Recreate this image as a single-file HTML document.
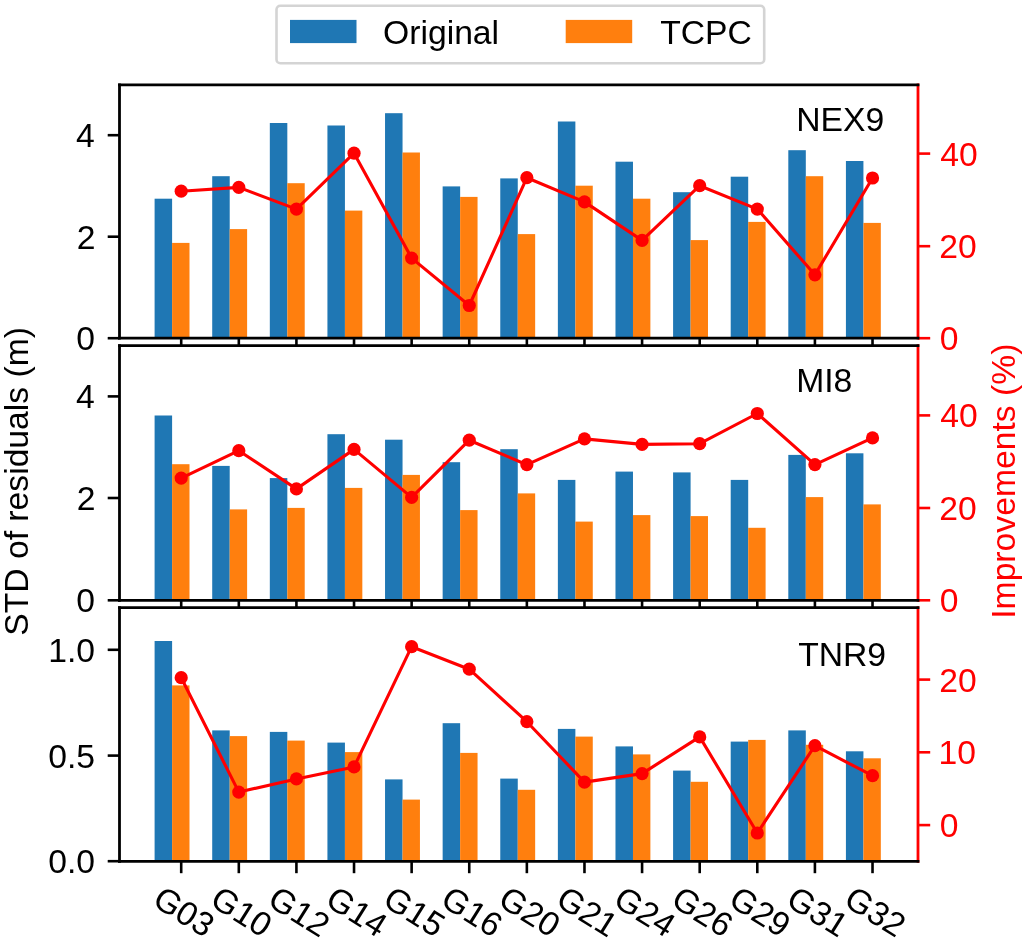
<!DOCTYPE html>
<html lang="en"><head><meta charset="utf-8"><title>STD of residuals and improvements</title>
<style>html,body{margin:0;padding:0;background:#fff;}body{width:1025px;height:943px;overflow:hidden;}svg{display:block;filter:blur(0.45px);}text{font-family:"Liberation Sans",Arial,sans-serif;font-size:33.7px;}</style>
</head><body>
<svg width="1025" height="943" viewBox="0 0 1025 943">
<rect width="1025" height="943" fill="#ffffff"/>
<rect x="276.5" y="5.8" width="487.7" height="57.5" rx="3.8" ry="3.8" fill="#ffffff" stroke="#d4d4d4" stroke-width="2.6"/>
<rect x="290" y="19.9" width="66.5" height="23.2" fill="#1f77b4"/>
<text x="383.00" y="43.7" fill="#000">Original</text>
<rect x="565.7" y="19.9" width="66.5" height="23.2" fill="#ff7f0e"/>
<text x="660.15" y="43.7" fill="#000">TCPC</text>
<g>
<rect x="154.60" y="198.70" width="17.50" height="139.50" fill="#1f77b4"/>
<rect x="172.10" y="242.90" width="17.40" height="95.30" fill="#ff7f0e"/>
<rect x="212.21" y="176.20" width="17.50" height="162.00" fill="#1f77b4"/>
<rect x="229.71" y="229.10" width="17.40" height="109.10" fill="#ff7f0e"/>
<rect x="269.82" y="123.00" width="17.50" height="215.20" fill="#1f77b4"/>
<rect x="287.32" y="183.20" width="17.40" height="155.00" fill="#ff7f0e"/>
<rect x="327.43" y="125.50" width="17.50" height="212.70" fill="#1f77b4"/>
<rect x="344.93" y="210.60" width="17.40" height="127.60" fill="#ff7f0e"/>
<rect x="385.04" y="113.20" width="17.50" height="225.00" fill="#1f77b4"/>
<rect x="402.54" y="152.50" width="17.40" height="185.70" fill="#ff7f0e"/>
<rect x="442.65" y="186.40" width="17.50" height="151.80" fill="#1f77b4"/>
<rect x="460.15" y="196.90" width="17.40" height="141.30" fill="#ff7f0e"/>
<rect x="500.26" y="178.40" width="17.50" height="159.80" fill="#1f77b4"/>
<rect x="517.76" y="234.10" width="17.40" height="104.10" fill="#ff7f0e"/>
<rect x="557.87" y="121.50" width="17.50" height="216.70" fill="#1f77b4"/>
<rect x="575.37" y="185.70" width="17.40" height="152.50" fill="#ff7f0e"/>
<rect x="615.48" y="161.70" width="17.50" height="176.50" fill="#1f77b4"/>
<rect x="632.98" y="198.70" width="17.40" height="139.50" fill="#ff7f0e"/>
<rect x="673.09" y="192.20" width="17.50" height="146.00" fill="#1f77b4"/>
<rect x="690.59" y="240.10" width="17.40" height="98.10" fill="#ff7f0e"/>
<rect x="730.70" y="176.70" width="17.50" height="161.50" fill="#1f77b4"/>
<rect x="748.20" y="221.90" width="17.40" height="116.30" fill="#ff7f0e"/>
<rect x="788.31" y="150.20" width="17.50" height="188.00" fill="#1f77b4"/>
<rect x="805.81" y="176.20" width="17.40" height="162.00" fill="#ff7f0e"/>
<rect x="845.92" y="161.00" width="17.50" height="177.20" fill="#1f77b4"/>
<rect x="863.42" y="222.90" width="17.40" height="115.30" fill="#ff7f0e"/>
<line x1="181.20" y1="338.20" x2="181.20" y2="345.60" stroke="#000" stroke-width="2.6"/>
<line x1="238.81" y1="338.20" x2="238.81" y2="345.60" stroke="#000" stroke-width="2.6"/>
<line x1="296.42" y1="338.20" x2="296.42" y2="345.60" stroke="#000" stroke-width="2.6"/>
<line x1="354.03" y1="338.20" x2="354.03" y2="345.60" stroke="#000" stroke-width="2.6"/>
<line x1="411.64" y1="338.20" x2="411.64" y2="345.60" stroke="#000" stroke-width="2.6"/>
<line x1="469.25" y1="338.20" x2="469.25" y2="345.60" stroke="#000" stroke-width="2.6"/>
<line x1="526.86" y1="338.20" x2="526.86" y2="345.60" stroke="#000" stroke-width="2.6"/>
<line x1="584.47" y1="338.20" x2="584.47" y2="345.60" stroke="#000" stroke-width="2.6"/>
<line x1="642.08" y1="338.20" x2="642.08" y2="345.60" stroke="#000" stroke-width="2.6"/>
<line x1="699.69" y1="338.20" x2="699.69" y2="345.60" stroke="#000" stroke-width="2.6"/>
<line x1="757.30" y1="338.20" x2="757.30" y2="345.60" stroke="#000" stroke-width="2.6"/>
<line x1="814.91" y1="338.20" x2="814.91" y2="345.60" stroke="#000" stroke-width="2.6"/>
<line x1="872.52" y1="338.20" x2="872.52" y2="345.60" stroke="#000" stroke-width="2.6"/>
</g>
<g>
<rect x="154.60" y="415.50" width="17.50" height="184.80" fill="#1f77b4"/>
<rect x="172.10" y="464.20" width="17.40" height="136.10" fill="#ff7f0e"/>
<rect x="212.21" y="465.90" width="17.50" height="134.40" fill="#1f77b4"/>
<rect x="229.71" y="509.40" width="17.40" height="90.90" fill="#ff7f0e"/>
<rect x="269.82" y="478.10" width="17.50" height="122.20" fill="#1f77b4"/>
<rect x="287.32" y="507.90" width="17.40" height="92.40" fill="#ff7f0e"/>
<rect x="327.43" y="434.20" width="17.50" height="166.10" fill="#1f77b4"/>
<rect x="344.93" y="487.90" width="17.40" height="112.40" fill="#ff7f0e"/>
<rect x="385.04" y="439.70" width="17.50" height="160.60" fill="#1f77b4"/>
<rect x="402.54" y="474.90" width="17.40" height="125.40" fill="#ff7f0e"/>
<rect x="442.65" y="462.20" width="17.50" height="138.10" fill="#1f77b4"/>
<rect x="460.15" y="510.10" width="17.40" height="90.20" fill="#ff7f0e"/>
<rect x="500.26" y="449.20" width="17.50" height="151.10" fill="#1f77b4"/>
<rect x="517.76" y="493.40" width="17.40" height="106.90" fill="#ff7f0e"/>
<rect x="557.87" y="479.90" width="17.50" height="120.40" fill="#1f77b4"/>
<rect x="575.37" y="521.60" width="17.40" height="78.70" fill="#ff7f0e"/>
<rect x="615.48" y="471.60" width="17.50" height="128.70" fill="#1f77b4"/>
<rect x="632.98" y="515.10" width="17.40" height="85.20" fill="#ff7f0e"/>
<rect x="673.09" y="472.40" width="17.50" height="127.90" fill="#1f77b4"/>
<rect x="690.59" y="516.10" width="17.40" height="84.20" fill="#ff7f0e"/>
<rect x="730.70" y="479.90" width="17.50" height="120.40" fill="#1f77b4"/>
<rect x="748.20" y="527.80" width="17.40" height="72.50" fill="#ff7f0e"/>
<rect x="788.31" y="454.90" width="17.50" height="145.40" fill="#1f77b4"/>
<rect x="805.81" y="497.10" width="17.40" height="103.20" fill="#ff7f0e"/>
<rect x="845.92" y="453.30" width="17.50" height="147.00" fill="#1f77b4"/>
<rect x="863.42" y="504.40" width="17.40" height="95.90" fill="#ff7f0e"/>
<line x1="181.20" y1="600.30" x2="181.20" y2="607.60" stroke="#000" stroke-width="2.6"/>
<line x1="238.81" y1="600.30" x2="238.81" y2="607.60" stroke="#000" stroke-width="2.6"/>
<line x1="296.42" y1="600.30" x2="296.42" y2="607.60" stroke="#000" stroke-width="2.6"/>
<line x1="354.03" y1="600.30" x2="354.03" y2="607.60" stroke="#000" stroke-width="2.6"/>
<line x1="411.64" y1="600.30" x2="411.64" y2="607.60" stroke="#000" stroke-width="2.6"/>
<line x1="469.25" y1="600.30" x2="469.25" y2="607.60" stroke="#000" stroke-width="2.6"/>
<line x1="526.86" y1="600.30" x2="526.86" y2="607.60" stroke="#000" stroke-width="2.6"/>
<line x1="584.47" y1="600.30" x2="584.47" y2="607.60" stroke="#000" stroke-width="2.6"/>
<line x1="642.08" y1="600.30" x2="642.08" y2="607.60" stroke="#000" stroke-width="2.6"/>
<line x1="699.69" y1="600.30" x2="699.69" y2="607.60" stroke="#000" stroke-width="2.6"/>
<line x1="757.30" y1="600.30" x2="757.30" y2="607.60" stroke="#000" stroke-width="2.6"/>
<line x1="814.91" y1="600.30" x2="814.91" y2="607.60" stroke="#000" stroke-width="2.6"/>
<line x1="872.52" y1="600.30" x2="872.52" y2="607.60" stroke="#000" stroke-width="2.6"/>
</g>
<g>
<rect x="154.60" y="641.00" width="17.50" height="220.40" fill="#1f77b4"/>
<rect x="172.10" y="685.40" width="17.40" height="176.00" fill="#ff7f0e"/>
<rect x="212.21" y="730.40" width="17.50" height="131.00" fill="#1f77b4"/>
<rect x="229.71" y="736.10" width="17.40" height="125.30" fill="#ff7f0e"/>
<rect x="269.82" y="731.90" width="17.50" height="129.50" fill="#1f77b4"/>
<rect x="287.32" y="740.60" width="17.40" height="120.80" fill="#ff7f0e"/>
<rect x="327.43" y="742.60" width="17.50" height="118.80" fill="#1f77b4"/>
<rect x="344.93" y="752.10" width="17.40" height="109.30" fill="#ff7f0e"/>
<rect x="385.04" y="779.40" width="17.50" height="82.00" fill="#1f77b4"/>
<rect x="402.54" y="799.60" width="17.40" height="61.80" fill="#ff7f0e"/>
<rect x="442.65" y="723.20" width="17.50" height="138.20" fill="#1f77b4"/>
<rect x="460.15" y="752.90" width="17.40" height="108.50" fill="#ff7f0e"/>
<rect x="500.26" y="778.60" width="17.50" height="82.80" fill="#1f77b4"/>
<rect x="517.76" y="789.80" width="17.40" height="71.60" fill="#ff7f0e"/>
<rect x="557.87" y="728.90" width="17.50" height="132.50" fill="#1f77b4"/>
<rect x="575.37" y="736.60" width="17.40" height="124.80" fill="#ff7f0e"/>
<rect x="615.48" y="746.40" width="17.50" height="115.00" fill="#1f77b4"/>
<rect x="632.98" y="754.40" width="17.40" height="107.00" fill="#ff7f0e"/>
<rect x="673.09" y="770.60" width="17.50" height="90.80" fill="#1f77b4"/>
<rect x="690.59" y="781.80" width="17.40" height="79.60" fill="#ff7f0e"/>
<rect x="730.70" y="741.60" width="17.50" height="119.80" fill="#1f77b4"/>
<rect x="748.20" y="739.90" width="17.40" height="121.50" fill="#ff7f0e"/>
<rect x="788.31" y="730.40" width="17.50" height="131.00" fill="#1f77b4"/>
<rect x="805.81" y="744.80" width="17.40" height="116.60" fill="#ff7f0e"/>
<rect x="845.92" y="751.30" width="17.50" height="110.10" fill="#1f77b4"/>
<rect x="863.42" y="758.30" width="17.40" height="103.10" fill="#ff7f0e"/>
<line x1="181.20" y1="861.40" x2="181.20" y2="873.20" stroke="#000" stroke-width="2.6"/>
<line x1="238.81" y1="861.40" x2="238.81" y2="873.20" stroke="#000" stroke-width="2.6"/>
<line x1="296.42" y1="861.40" x2="296.42" y2="873.20" stroke="#000" stroke-width="2.6"/>
<line x1="354.03" y1="861.40" x2="354.03" y2="873.20" stroke="#000" stroke-width="2.6"/>
<line x1="411.64" y1="861.40" x2="411.64" y2="873.20" stroke="#000" stroke-width="2.6"/>
<line x1="469.25" y1="861.40" x2="469.25" y2="873.20" stroke="#000" stroke-width="2.6"/>
<line x1="526.86" y1="861.40" x2="526.86" y2="873.20" stroke="#000" stroke-width="2.6"/>
<line x1="584.47" y1="861.40" x2="584.47" y2="873.20" stroke="#000" stroke-width="2.6"/>
<line x1="642.08" y1="861.40" x2="642.08" y2="873.20" stroke="#000" stroke-width="2.6"/>
<line x1="699.69" y1="861.40" x2="699.69" y2="873.20" stroke="#000" stroke-width="2.6"/>
<line x1="757.30" y1="861.40" x2="757.30" y2="873.20" stroke="#000" stroke-width="2.6"/>
<line x1="814.91" y1="861.40" x2="814.91" y2="873.20" stroke="#000" stroke-width="2.6"/>
<line x1="872.52" y1="861.40" x2="872.52" y2="873.20" stroke="#000" stroke-width="2.6"/>
</g>
<polyline points="181.20,191.20 238.81,187.40 296.42,209.10 354.03,153.20 411.64,258.10 469.25,305.50 526.86,177.70 584.47,201.90 642.08,240.40 699.69,185.70 757.30,209.10 814.91,274.80 872.52,178.00" fill="none" stroke="#ff0000" stroke-width="3.1" stroke-linejoin="round"/>
<circle cx="181.20" cy="191.20" r="6.6" fill="#ff0000"/>
<circle cx="238.81" cy="187.40" r="6.6" fill="#ff0000"/>
<circle cx="296.42" cy="209.10" r="6.6" fill="#ff0000"/>
<circle cx="354.03" cy="153.20" r="6.6" fill="#ff0000"/>
<circle cx="411.64" cy="258.10" r="6.6" fill="#ff0000"/>
<circle cx="469.25" cy="305.50" r="6.6" fill="#ff0000"/>
<circle cx="526.86" cy="177.70" r="6.6" fill="#ff0000"/>
<circle cx="584.47" cy="201.90" r="6.6" fill="#ff0000"/>
<circle cx="642.08" cy="240.40" r="6.6" fill="#ff0000"/>
<circle cx="699.69" cy="185.70" r="6.6" fill="#ff0000"/>
<circle cx="757.30" cy="209.10" r="6.6" fill="#ff0000"/>
<circle cx="814.91" cy="274.80" r="6.6" fill="#ff0000"/>
<circle cx="872.52" cy="178.00" r="6.6" fill="#ff0000"/>
<polyline points="181.20,478.10 238.81,450.70 296.42,488.90 354.03,449.40 411.64,497.40 469.25,440.20 526.86,464.70 584.47,438.90 642.08,444.40 699.69,443.70 757.30,413.50 814.91,464.60 872.52,437.90" fill="none" stroke="#ff0000" stroke-width="3.1" stroke-linejoin="round"/>
<circle cx="181.20" cy="478.10" r="6.6" fill="#ff0000"/>
<circle cx="238.81" cy="450.70" r="6.6" fill="#ff0000"/>
<circle cx="296.42" cy="488.90" r="6.6" fill="#ff0000"/>
<circle cx="354.03" cy="449.40" r="6.6" fill="#ff0000"/>
<circle cx="411.64" cy="497.40" r="6.6" fill="#ff0000"/>
<circle cx="469.25" cy="440.20" r="6.6" fill="#ff0000"/>
<circle cx="526.86" cy="464.70" r="6.6" fill="#ff0000"/>
<circle cx="584.47" cy="438.90" r="6.6" fill="#ff0000"/>
<circle cx="642.08" cy="444.40" r="6.6" fill="#ff0000"/>
<circle cx="699.69" cy="443.70" r="6.6" fill="#ff0000"/>
<circle cx="757.30" cy="413.50" r="6.6" fill="#ff0000"/>
<circle cx="814.91" cy="464.60" r="6.6" fill="#ff0000"/>
<circle cx="872.52" cy="437.90" r="6.6" fill="#ff0000"/>
<polyline points="181.20,677.70 238.81,792.10 296.42,778.90 354.03,766.90 411.64,646.70 469.25,669.20 526.86,721.70 584.47,782.10 642.08,773.60 699.69,736.90 757.30,833.00 814.91,745.70 872.52,775.70" fill="none" stroke="#ff0000" stroke-width="3.1" stroke-linejoin="round"/>
<circle cx="181.20" cy="677.70" r="6.6" fill="#ff0000"/>
<circle cx="238.81" cy="792.10" r="6.6" fill="#ff0000"/>
<circle cx="296.42" cy="778.90" r="6.6" fill="#ff0000"/>
<circle cx="354.03" cy="766.90" r="6.6" fill="#ff0000"/>
<circle cx="411.64" cy="646.70" r="6.6" fill="#ff0000"/>
<circle cx="469.25" cy="669.20" r="6.6" fill="#ff0000"/>
<circle cx="526.86" cy="721.70" r="6.6" fill="#ff0000"/>
<circle cx="584.47" cy="782.10" r="6.6" fill="#ff0000"/>
<circle cx="642.08" cy="773.60" r="6.6" fill="#ff0000"/>
<circle cx="699.69" cy="736.90" r="6.6" fill="#ff0000"/>
<circle cx="757.30" cy="833.00" r="6.6" fill="#ff0000"/>
<circle cx="814.91" cy="745.70" r="6.6" fill="#ff0000"/>
<circle cx="872.52" cy="775.70" r="6.6" fill="#ff0000"/>
<line x1="107.70" y1="338.20" x2="119.50" y2="338.20" stroke="#000" stroke-width="2.6"/>
<text x="76.20" y="350.10" fill="#000">0</text>
<line x1="107.70" y1="236.70" x2="119.50" y2="236.70" stroke="#000" stroke-width="2.6"/>
<text x="76.70" y="248.60" fill="#000">2</text>
<line x1="107.70" y1="135.20" x2="119.50" y2="135.20" stroke="#000" stroke-width="2.6"/>
<text x="75.95" y="147.10" fill="#000">4</text>
<line x1="918.00" y1="338.20" x2="930.20" y2="338.20" stroke="#ff0000" stroke-width="2.6"/>
<text x="939.75" y="350.10" fill="#ff0000">0</text>
<line x1="918.00" y1="246.20" x2="930.20" y2="246.20" stroke="#ff0000" stroke-width="2.6"/>
<text x="939.25" y="258.10" fill="#ff0000">20</text>
<line x1="918.00" y1="153.60" x2="930.20" y2="153.60" stroke="#ff0000" stroke-width="2.6"/>
<text x="940.25" y="165.50" fill="#ff0000">40</text>
<line x1="918.00" y1="83.40" x2="918.00" y2="339.60" stroke="#ff0000" stroke-width="2.8"/>
<line x1="118.10" y1="84.80" x2="919.40" y2="84.80" stroke="#000" stroke-width="2.8"/>
<line x1="118.10" y1="338.20" x2="919.40" y2="338.20" stroke="#000" stroke-width="2.8"/>
<line x1="119.50" y1="83.40" x2="119.50" y2="339.60" stroke="#000" stroke-width="2.8"/>
<text x="796.15" y="131.40" fill="#000">NEX9</text>
<line x1="107.70" y1="600.30" x2="119.50" y2="600.30" stroke="#000" stroke-width="2.6"/>
<text x="76.20" y="612.20" fill="#000">0</text>
<line x1="107.70" y1="498.00" x2="119.50" y2="498.00" stroke="#000" stroke-width="2.6"/>
<text x="76.70" y="509.90" fill="#000">2</text>
<line x1="107.70" y1="396.40" x2="119.50" y2="396.40" stroke="#000" stroke-width="2.6"/>
<text x="75.95" y="408.30" fill="#000">4</text>
<line x1="918.00" y1="600.30" x2="930.20" y2="600.30" stroke="#ff0000" stroke-width="2.6"/>
<text x="939.75" y="612.20" fill="#ff0000">0</text>
<line x1="918.00" y1="508.00" x2="930.20" y2="508.00" stroke="#ff0000" stroke-width="2.6"/>
<text x="939.25" y="519.90" fill="#ff0000">20</text>
<line x1="918.00" y1="415.40" x2="930.20" y2="415.40" stroke="#ff0000" stroke-width="2.6"/>
<text x="940.25" y="427.30" fill="#ff0000">40</text>
<line x1="918.00" y1="344.20" x2="918.00" y2="601.70" stroke="#ff0000" stroke-width="2.8"/>
<line x1="118.10" y1="345.60" x2="919.40" y2="345.60" stroke="#000" stroke-width="2.8"/>
<line x1="118.10" y1="600.30" x2="919.40" y2="600.30" stroke="#000" stroke-width="2.8"/>
<line x1="119.50" y1="344.20" x2="119.50" y2="601.70" stroke="#000" stroke-width="2.8"/>
<text x="796.15" y="392.30" fill="#000">MI8</text>
<line x1="107.70" y1="861.20" x2="119.50" y2="861.20" stroke="#000" stroke-width="2.6"/>
<text x="48.20" y="873.10" fill="#000">0.0</text>
<line x1="107.70" y1="755.60" x2="119.50" y2="755.60" stroke="#000" stroke-width="2.6"/>
<text x="48.20" y="767.50" fill="#000">0.5</text>
<line x1="107.70" y1="649.80" x2="119.50" y2="649.80" stroke="#000" stroke-width="2.6"/>
<text x="48.20" y="661.70" fill="#000">1.0</text>
<line x1="918.00" y1="825.10" x2="930.20" y2="825.10" stroke="#ff0000" stroke-width="2.6"/>
<text x="939.75" y="837.00" fill="#ff0000">0</text>
<line x1="918.00" y1="752.30" x2="930.20" y2="752.30" stroke="#ff0000" stroke-width="2.6"/>
<text x="938.50" y="764.20" fill="#ff0000">10</text>
<line x1="918.00" y1="679.60" x2="930.20" y2="679.60" stroke="#ff0000" stroke-width="2.6"/>
<text x="939.25" y="691.50" fill="#ff0000">20</text>
<line x1="918.00" y1="606.20" x2="918.00" y2="862.80" stroke="#ff0000" stroke-width="2.8"/>
<line x1="118.10" y1="607.60" x2="919.40" y2="607.60" stroke="#000" stroke-width="2.8"/>
<line x1="118.10" y1="861.40" x2="919.40" y2="861.40" stroke="#000" stroke-width="2.8"/>
<line x1="119.50" y1="606.20" x2="119.50" y2="862.80" stroke="#000" stroke-width="2.8"/>
<text x="798.15" y="666.40" fill="#000">TNR9</text>
<text transform="translate(184.20,911.3) rotate(32)" text-anchor="middle" y="11.9" fill="#000">G03</text>
<text transform="translate(241.81,911.3) rotate(32)" text-anchor="middle" y="11.9" fill="#000">G10</text>
<text transform="translate(299.42,911.3) rotate(32)" text-anchor="middle" y="11.9" fill="#000">G12</text>
<text transform="translate(357.03,911.3) rotate(32)" text-anchor="middle" y="11.9" fill="#000">G14</text>
<text transform="translate(414.64,911.3) rotate(32)" text-anchor="middle" y="11.9" fill="#000">G15</text>
<text transform="translate(472.25,911.3) rotate(32)" text-anchor="middle" y="11.9" fill="#000">G16</text>
<text transform="translate(529.86,911.3) rotate(32)" text-anchor="middle" y="11.9" fill="#000">G20</text>
<text transform="translate(587.47,911.3) rotate(32)" text-anchor="middle" y="11.9" fill="#000">G21</text>
<text transform="translate(645.08,911.3) rotate(32)" text-anchor="middle" y="11.9" fill="#000">G24</text>
<text transform="translate(702.69,911.3) rotate(32)" text-anchor="middle" y="11.9" fill="#000">G26</text>
<text transform="translate(760.30,911.3) rotate(32)" text-anchor="middle" y="11.9" fill="#000">G29</text>
<text transform="translate(817.91,911.3) rotate(32)" text-anchor="middle" y="11.9" fill="#000">G31</text>
<text transform="translate(875.52,911.3) rotate(32)" text-anchor="middle" y="11.9" fill="#000">G32</text>
<text transform="translate(27.9,481.4) rotate(-90)" text-anchor="middle" fill="#000">STD of residuals (m)</text>
<text transform="translate(1014.5,481.2) rotate(-90)" text-anchor="middle" fill="#ff0000">Improvements (%)</text>
</svg>
</body></html>
